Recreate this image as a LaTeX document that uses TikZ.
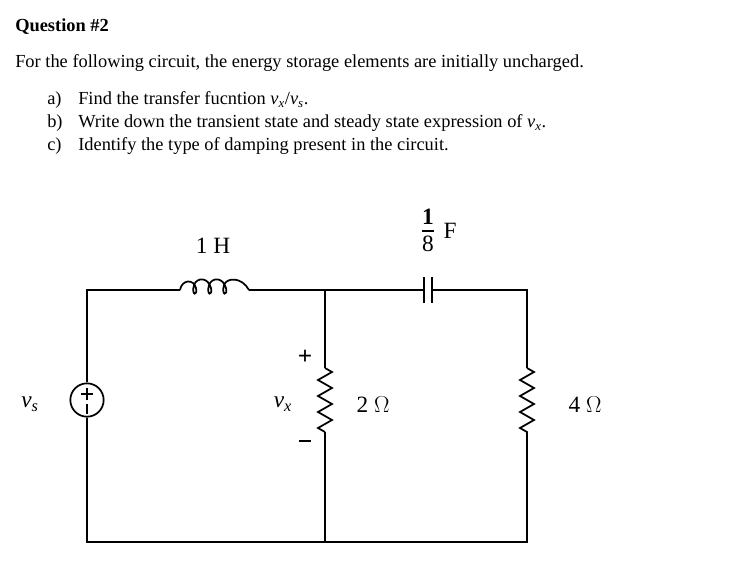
\documentclass[tikz,border=0pt]{standalone}
\usepackage{fontspec}
\setmainfont{Liberation Serif}
\newcommand{\vv}[1]{\textit{v}\textsubscript{\textit{#1}}}
\begin{document}
\begin{tikzpicture}[x=0.75pt,y=-0.75pt,
  w/.style={line width=1.3pt},
  txt/.style={anchor=west,inner sep=0,font=\fontsize{13.8}{15}\selectfont},
  lab/.style={inner sep=0,font=\fontsize{17.5}{19}\selectfont}]
\useasboundingbox (0,0) rectangle (738,583);
\node[txt,font=\bfseries\fontsize{13.8}{15}\selectfont] (q) at (15,27) {Question \#2};
\node[txt] (intro) at (15,63) {For the following circuit, the energy storage elements are initially uncharged.};
\node[txt] (la) at (47,100) {a)};
\node[txt] (ta) at (78,100) {Find the transfer fucntion \vv{x}/\vv{s}.};
\node[txt] (lb) at (47,123) {b)};
\node[txt] (tb) at (78,123) {Write down the transient state and steady state expression of \vv{x}.};
\node[txt] (lc) at (47,146) {c)};
\node[txt] (tc) at (78,146) {Identify the type of damping present in the circuit.};
% nodes
\coordinate (tl) at (87,290); \coordinate (bl) at (87,542);
\coordinate (tm) at (325,290); \coordinate (bm) at (325,542);
\coordinate (tr) at (527,290); \coordinate (br) at (527,542);
\node[draw,w,circle,minimum size=25pt,inner sep=0] (vs) at (87,400) {};
\draw[w] (vs.north) -- (tl) -- (180,290);
\draw[line width=1.1pt] (81,394) -- (93,394) (87,388) -- (87,400);
\draw[line width=1.1pt] (87,404) -- (87,414);
\draw[w] (180,290) .. controls (182,279) and (194,279) .. (196,288)
  .. controls (198,296) and (191,296) .. (194,285)
  .. controls (197,277) and (208,277) .. (211,288)
  .. controls (213,296) and (206,296) .. (209,285)
  .. controls (212,277) and (223,277) .. (226,288)
  .. controls (228,296) and (221,296) .. (224,285)
  .. controls (227,277) and (242,277) .. (249,290);
\draw[w] (249,290) -- (tm) -- (424,290);
\draw[w] (424,277) -- (424,303) (432,277) -- (432,303);
\draw[w] (432,290) -- (tr) -- (527,368);
\draw[w] (527,368) -- (534,372) -- (520,380) -- (534,388) -- (520,396) -- (534,404) -- (520,412) -- (534,420) -- (520,428) -- (527,432) -- (br) -- (bl) -- (vs.south);
\draw[line width=0.8pt] (tm) -- (325,368);
\draw[w] (325,368) -- (332,372) -- (318,380) -- (332,388) -- (318,396) -- (332,404) -- (318,412) -- (332,420) -- (318,428) -- (325,432);
\draw[line width=0.8pt] (325,432) -- (bm);
% labels
\node[lab] (lH) at (213,246) {1 H};
\node[lab] (lF1) at (428,217) {\textbf{1}};
\draw[line width=1pt] (422,231) -- (434,231);
\node[lab] (lF8) at (428,244) {8};
\node[lab] (lF) at (450,231) {F};
\node[lab] (lvs) at (30,404) {\vv{s}};
\node[lab] (lvx) at (283,404) {\vv{x}};
\node[lab,font=\fontsize{19}{19}\selectfont\bfseries] (lp) at (305,357) {+};
\draw[line width=1.5pt] (299,441) -- (311,441);
\node[lab] (l2) at (373,405) {2 $\Omega$};
\node[lab] (l4) at (585,405) {4 $\Omega$};
\end{tikzpicture}
\end{document}
